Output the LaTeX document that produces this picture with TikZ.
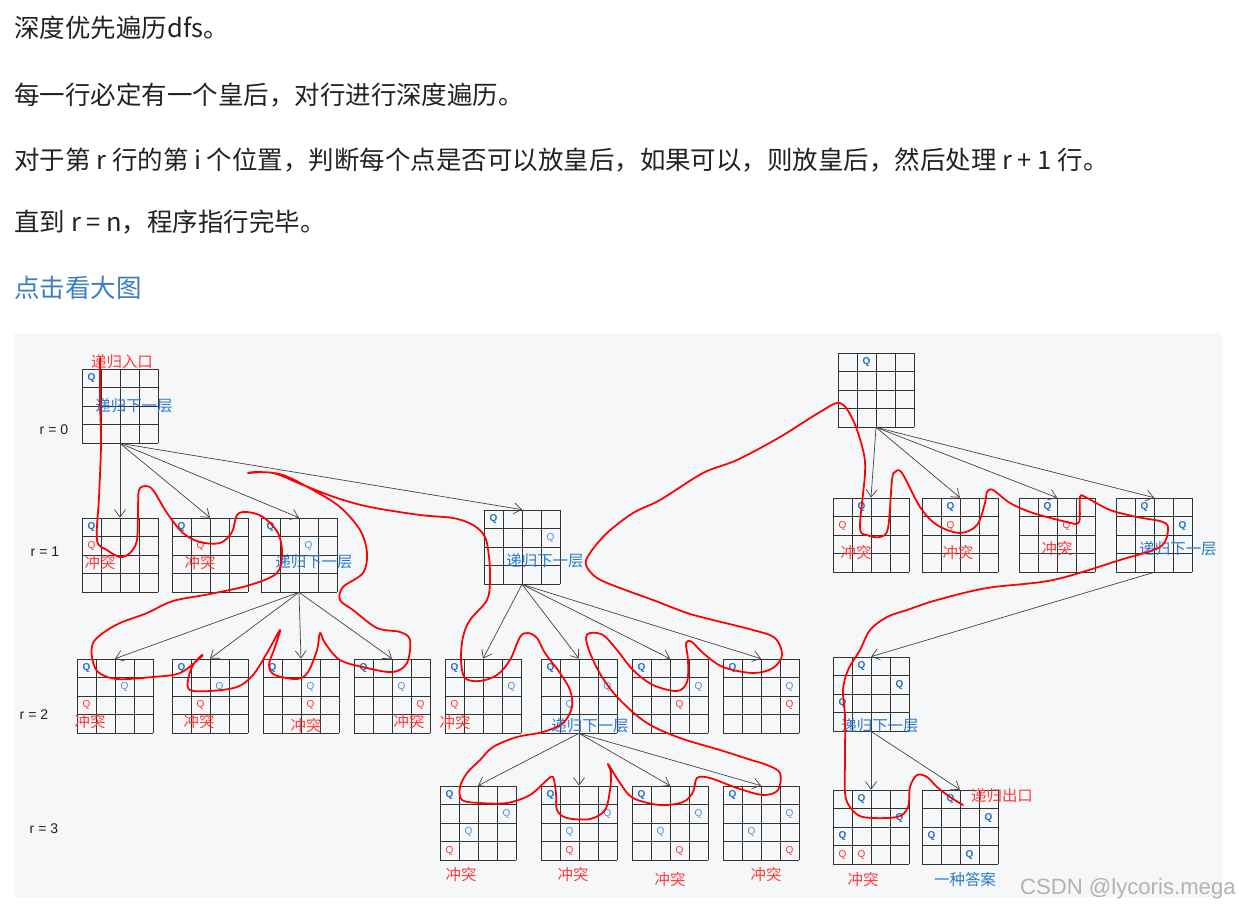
\documentclass[tikz,border=0pt]{standalone}
\usepackage{fontspec}
\setmainfont{Liberation Sans}
\newfontfamily\cjk{Noto Sans CJK SC}
\usetikzlibrary{arrows.meta}
\definecolor{txtc}{HTML}{222226}
\definecolor{linkc}{HTML}{3A7FC2}
\definecolor{panelc}{HTML}{F6F7F9}
\definecolor{gridc}{HTML}{333333}
\definecolor{arrc}{HTML}{444444}
\definecolor{qblue}{HTML}{1E6FC0}
\definecolor{qlight}{HTML}{4A90D6}
\definecolor{qred}{HTML}{FF3030}
\definecolor{lblred}{HTML}{FF3B3B}
\definecolor{lblblue}{HTML}{2B7BCB}
\tikzset{
  board/.style={inner sep=0pt, minimum width=1.52cm, minimum height=1.48cm},
  gridline/.style={draw=gridc, line width=0.5pt},
  qb/.style={inner sep=0pt, text=qblue, font=\fontsize{5.7}{6}\selectfont\bfseries},
  ql/.style={inner sep=0pt, text=qlight, font=\fontsize{5.7}{6}\selectfont},
  qr/.style={inner sep=0pt, text=qred, font=\fontsize{5.7}{6}\selectfont},
  redlab/.style={inner sep=0pt, text=lblred, font=\cjk\fontsize{8.8}{10}\selectfont},
  bluelab/.style={inner sep=0pt, text=lblblue, font=\cjk\fontsize{8.8}{10}\selectfont},
  rowlab/.style={inner sep=0pt, text=txtc, font=\fontsize{8}{9}\selectfont},
  para/.style={inner sep=0pt, anchor=west, text=txtc, font=\cjk\fontsize{14.5}{16}\selectfont},
  arr/.style={->, draw=arrc, line width=0.4pt},
  redpath/.style={draw=red, line width=1pt, line cap=round, line join=round}
}
% a 4x4 board: name, top-left corner, queens col/row/style
\newcommand\qboard[3]{%
  \begin{scope}[shift={(#2)}]
    \node[board] (#1) at (38,37) {};
    \foreach \k in {0,...,4}{
      \draw[gridline] (\k*19,0) -- (\k*19,74);
      \draw[gridline] (0,\k*18.5) -- (76,\k*18.5);
    }
    \foreach \cc/\rr/\qs in {#3}
      \node[\qs] (#1q\cc\rr) at (\cc*19+9.5,\rr*18.5+9.25) {Q};
  \end{scope}}
\begin{document}
\begin{tikzpicture}[x=0.02cm, y=-0.02cm, >={Straight Barb[length=1.5mm,width=2.2mm]}]
\useasboundingbox (0,0) rectangle (1239,912);
\fill[white] (0,0) rectangle (1239,912);

% text above the picture
\node[para] (t1) at (14,28) {深度优先遍历dfs。};
\node[para] (t2) at (14,95) {每一行必定有一个皇后，对行进行深度遍历。};
\node[para] (t3) at (14,160) {对于第 r 行的第 i 个位置，判断每个点是否可以放皇后，如果可以，则放皇后，然后处理 r + 1 行。};
\node[para] (t4) at (14,222) {直到 r = n，程序指行完毕。};
\node[para, text=linkc] (t5) at (14,288) {点击看大图};

\fill[panelc] (14,333) rectangle (1222,897);

% row labels
\node[rowlab] (r0) at (54,430) {r = 0};
\node[rowlab] (r1) at (45,552) {r = 1};
\node[rowlab] (r2) at (34,715) {r = 2};
\node[rowlab] (r3) at (44,829) {r = 3};

% left tree
\qboard{A0}{82,369}{0/0/qb}
\qboard{A1}{82,518}{0/0/qb, 0/1/qr}
\qboard{A2}{172,518}{0/0/qb, 1/1/qr}
\qboard{A3}{261,518}{0/0/qb, 2/1/ql}
\qboard{A4}{484,510}{0/0/qb, 3/1/ql}
\qboard{B1}{77,659}{0/0/qb, 2/1/ql, 0/2/qr}
\qboard{B2}{172,659}{0/0/qb, 2/1/ql, 1/2/qr}
\qboard{B3}{263,659}{0/0/qb, 2/1/ql, 2/2/qr}
\qboard{B4}{354,659}{0/0/qb, 2/1/ql, 3/2/qr}
\qboard{B5}{445,659}{0/0/qb, 3/1/ql, 0/2/qr}
\qboard{B6}{541,659}{0/0/qb, 3/1/ql, 1/2/ql}
\qboard{B7}{632,659}{0/0/qb, 3/1/ql, 2/2/qr}
\qboard{B8}{723,659}{0/0/qb, 3/1/ql, 3/2/qr}
\qboard{C1}{440,786}{0/0/qb, 3/1/ql, 1/2/ql, 0/3/qr}
\qboard{C2}{541,786}{0/0/qb, 3/1/ql, 1/2/ql, 1/3/qr}
\qboard{C3}{632,786}{0/0/qb, 3/1/ql, 1/2/ql, 2/3/qr}
\qboard{C4}{723,786}{0/0/qb, 3/1/ql, 1/2/ql, 3/3/qr}

% right tree
\qboard{R0}{838,353}{1/0/qb}
\qboard{R1}{833,498}{1/0/qb, 0/1/qr}
\qboard{R2}{922,498}{1/0/qb, 1/1/qr}
\qboard{R3}{1019,498}{1/0/qb, 2/1/qr}
\qboard{R4}{1116,498}{1/0/qb, 3/1/qb}
\qboard{R5}{833,657}{1/0/qb, 3/1/qb, 0/2/qb}
\qboard{R6}{833,790}{1/0/qb, 3/1/qb, 0/2/qb, 0/3/qr, 1/3/qr}
\qboard{R7}{922,790}{1/0/qb, 3/1/qb, 0/2/qb, 2/3/qb}

% arrows
\foreach \ch in {A1,A2,A3,A4} \draw[arr] (A0.south) -- (\ch.north);
\foreach \ch in {B1,B2,B3,B4} \draw[arr] (A3.south) -- (\ch.north);
\foreach \ch in {B5,B6,B7,B8} \draw[arr] (A4.south) -- (\ch.north);
\foreach \ch in {C1,C2,C3,C4} \draw[arr] (B6.south) -- (\ch.north);
\foreach \ch in {R1,R2,R3,R4} \draw[arr] (R0.south) -- (\ch.north);
\draw[arr] (R4.south) -- (R5.north);
\foreach \ch in {R6,R7} \draw[arr] (R5.south) -- (\ch.north);

% labels
\node[redlab] (entry) at (122,362) {递归入口};
\node[bluelab] (A0l) at (134,406) {递归下一层};
\node[redlab] (A1l) at (100,563) {冲突};
\node[redlab] (A2l) at (200,563) {冲突};
\node[bluelab] (A3l) at (314,562) {递归下一层};
\node[bluelab] (A4l) at (545,561) {递归下一层};
\node[redlab] (B1l) at (90,722) {冲突};
\node[redlab] (B2l) at (199,722) {冲突};
\node[redlab] (B3l) at (306,726) {冲突};
\node[redlab] (B4l) at (409,722) {冲突};
\node[redlab] (B5l) at (455,723) {冲突};
\node[bluelab] (B6l) at (590,726) {递归下一层};
\node[redlab] (C1l) at (461,875) {冲突};
\node[redlab] (C2l) at (573,875) {冲突};
\node[redlab] (C3l) at (670,880) {冲突};
\node[redlab] (C4l) at (766,875) {冲突};
\node[redlab] (R1l) at (856,553) {冲突};
\node[redlab] (R2l) at (958,553) {冲突};
\node[redlab] (R3l) at (1057,549) {冲突};
\node[bluelab] (R4l) at (1178,549) {递归下一层};
\node[bluelab] (R5l) at (880,726) {递归下一层};
\node[redlab] (R6l) at (863,880) {冲突};
\node[bluelab] (R7l) at (965,880) {一种答案};
\node[redlab] (exit) at (1002,796) {递归出口};

% hand drawn trace
\draw[redpath] plot[smooth, tension=0.55] coordinates {
(100,358) (100,400) (101,445) (99,497) (97,540) (107,550) (120,557) (130,553)
(137,540) (138,507) (139,490) (145,486) (153,490) (167,513) (183,533) (200,542)
(220,543) (232,532) (237,515) (247,512) (263,517) (278,533) (282,553) (277,573)
(250,585) (210,594) (173,601) (147,613) (120,623) (103,633) (93,643) (92,657)
(98,672) (117,679) (153,677) (180,673) (200,658) (202,655) (193,665) (188,680)
(190,690) (210,691) (237,687) (253,675) (267,653) (280,630) (275,647) (269,665)
(275,675) (297,679) (308,672) (317,650) (320,633) (325,643) (340,660) (367,668)
(393,672) (407,663) (410,640) (400,632) (377,628) (353,610) (340,600) (343,587)
(363,573) (367,553) (360,530) (340,507) (313,490) (283,475) (260,472) (248,473)
(273,473) (303,485) (337,498) (370,507) (420,515) (453,518) (473,525) (485,537)
(489,557) (490,580) (487,600) (470,620) (463,637) (461,660) (465,678) (480,681)
(497,675) (510,660) (520,637) (528,633) (537,638) (545,653) (560,673) (570,690)
(572,707) (563,723) (543,732) (517,737) (493,747) (480,760) (467,773) (460,787)
(462,800) (480,803) (507,803) (530,795) (547,780) (553,777) (556,793) (557,810)
(567,818) (590,819) (605,810) (610,790) (611,773) (608,764) (620,783) (633,798)
(660,805) (683,802) (693,792) (697,778) (710,778) (737,788) (763,795) (778,790)
(780,773) (767,765) (748,759) (720,750) (680,738) (647,723) (620,700) (602,677)
(590,653) (586,638) (590,633) (603,635) (617,650) (633,670) (653,685) (677,691)
(687,682) (688,660) (686,643) (692,642) (703,653) (723,667) (753,673) (773,668)
(782,655) (775,638) (753,630) (713,620) (687,613) (653,600) (620,588) (597,578)
(586,565) (590,553) (607,533) (633,513) (660,500) (703,473) (737,460) (780,437)
(820,412) (840,403) (853,420) (863,450) (865,473) (860,527) (867,535) (880,537)
(888,528) (892,480) (895,472) (902,473) (920,507) (937,525) (960,533) (977,525)
(985,503) (987,492) (993,490) (1010,503) (1033,513) (1067,522) (1079,522) (1080,497)
(1087,498) (1110,510) (1137,517) (1163,522) (1168,530) (1160,547) (1120,560) (1053,580)
(987,588) (937,600) (907,610) (887,617) (870,630) (860,650) (848,670) (843,690)
(845,717) (845,760) (845,793) (850,807) (863,817) (897,817) (908,807) (910,787)
(917,775) (927,777) (937,787) (950,797) (963,805)};

% watermark
\node[inner sep=0pt, anchor=east, text=black!30, font=\fontsize{12.6}{14}\selectfont] (mark) at (1236,889) {CSDN @lycoris.mega};
\end{tikzpicture}
\end{document}
